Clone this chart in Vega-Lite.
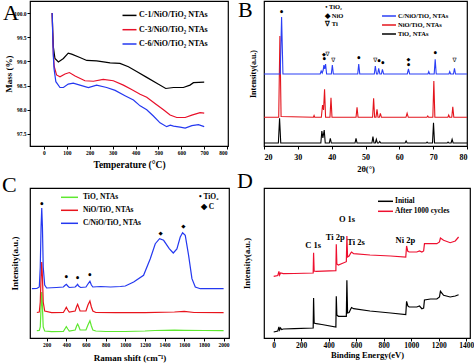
{
"$schema": "https://vega.github.io/schema/vega-lite/v6.json",
"background": "white",
"autosize": {"type": "none"},
"padding": {"left": 30, "top": 1, "right": 444, "bottom": 363},
"bounds": "flush",
"align": "none",
"columns": 2,
"spacing": {"row": 42, "column": 35},
"resolve": {"scale": {"color": "independent"}},
"concat": [
  {"width": 198, "height": 145,
   "title": {"text": "A", "dx": -27, "dy": 28},
   "encoding": {
    "x": {"field": "T", "type": "quantitative", "scale": {"domain": [-61, 804], "nice": false, "zero": false},
      "axis": {"title": "Temperature (°C)", "values": [0,100,200,300,400,500,600,700,800], "labelFontSize": 5.5, "labelPadding": 1, "titleFontSize": 9.5, "titlePadding": 4}},
    "y": {"field": "mass", "type": "quantitative", "scale": {"domain": [97.25, 100.25], "nice": false, "zero": false},
      "axis": {"title": "Mass (%)", "values": [97.5,98,98.5,99,99.5,100], "format": ".1f", "labelFontSize": 5.5, "labelPadding": 1, "titleFontSize": 9, "titlePadding": 0}}
   },
   "layer": [
    {"data": {"name": "tga"}, "mark": {"type": "line", "strokeWidth": 1.2},
     "encoding": {"color": {"field": "sample", "type": "nominal",
       "scale": {"domain": ["C-1/NiO/TiO₂ NTAs","C-3/NiO/TiO₂ NTAs","C-6/NiO/TiO₂ NTAs"], "range": ["#000000","#e8102a","#2438f0"]},
       "legend": {"orient": "none", "legendX": 91.5, "legendY": 6.4, "title": null, "symbolType": "M-1,0H1", "symbolSize": 196, "symbolStrokeWidth": 1.5, "labelFontSize": 8, "labelOffset": 1.5, "rowPadding": 2.3, "padding": 0}}}}
   ]},
  {"width": 203, "height": 145,
   "title": {"text": "B", "dx": -26, "dy": 25},
   "encoding": {
    "x": {"field": "theta", "type": "quantitative", "scale": {"domain": [20, 80], "nice": false, "zero": false},
      "axis": {"title": "2θ(°)", "values": [20,30,40,50,60,70,80], "labelFontSize": 8, "labelPadding": 4, "titleFontSize": 8.5, "titlePadding": 3}},
    "y": {"field": "I", "type": "quantitative", "scale": {"domain": [0, 145], "nice": false, "zero": false},
      "axis": {"title": "Intensity(a.u.)", "labels": false, "ticks": false, "titleFontSize": 8, "titlePadding": 7}}
   },
   "layer": [
    {"data": {"name": "xrd"}, "mark": {"type": "line", "strokeWidth": 1.1},
     "encoding": {"color": {"field": "sample", "type": "nominal",
       "scale": {"domain": ["C/NiO/TiO₂ NTAs","NiO/TiO₂ NTAs","TiO₂ NTAs"], "range": ["#2b3ff5","#e4141c","#000000"]},
       "legend": {"orient": "none", "legendX": 119.5, "legendY": 9.5, "title": null, "symbolType": "M-1.55,0H1.55", "symbolSize": 81, "symbolStrokeWidth": 1.5, "labelFontSize": 6.5, "labelOffset": 3.5, "rowPadding": 0, "padding": 0}}}},
    {"data": {"name": "xrdDots"}, "mark": {"type": "text", "font": "DejaVu Sans", "fontSize": 8, "fontWeight": "bold"},
     "encoding": {"text": {"field": "label", "type": "nominal"}}},
    {"data": {"name": "xrdTriangles"}, "mark": {"type": "text", "font": "DejaVu Sans", "fontSize": 6},
     "encoding": {"text": {"field": "label", "type": "nominal"}}},
    {"data": {"name": "xrdDiamonds"}, "mark": {"type": "text", "font": "DejaVu Sans", "fontSize": 5},
     "encoding": {"text": {"field": "label", "type": "nominal"}}},
    {"data": {"name": "xrdKey"}, "mark": {"type": "text", "align": "left", "font": "Liberation Serif", "fontSize": 6.5, "fontWeight": "bold"},
     "encoding": {"text": {"field": "label", "type": "nominal"}}}
   ]},
  {"width": 199, "height": 150,
   "title": {"text": "C", "dx": -28, "dy": 13},
   "encoding": {
    "x": {"field": "shift", "type": "quantitative", "scale": {"domain": [30.5, 2055], "nice": false, "zero": false},
      "axis": {"title": "Raman shift (cm⁻¹)", "values": [200,400,600,800,1000,1200,1400,1600,1800,2000], "format": "d", "labelFontSize": 5.5, "labelPadding": 1.5, "titleFontSize": 9, "titlePadding": 5}},
    "y": {"field": "I", "type": "quantitative", "scale": {"domain": [-1, 149], "nice": false, "zero": false},
      "axis": {"title": "Intensity(a.u.)", "labels": false, "ticks": false, "titleFontSize": 9, "titlePadding": 10.5}}
   },
   "layer": [
    {"data": {"name": "raman"}, "mark": {"type": "line", "strokeWidth": 1.2},
     "encoding": {"color": {"field": "sample", "type": "nominal",
       "scale": {"domain": ["TiO₂ NTAs","NiO/TiO₂ NTAs","C/NiO/TiO₂ NTAs"], "range": ["#5ee830","#e8141c","#2438f0"]},
       "legend": {"orient": "none", "legendX": 32, "legendY": 1.8, "title": null, "symbolType": "M-1.31,0H1.31", "symbolSize": 169, "symbolStrokeWidth": 1.5, "labelFontSize": 7.5, "labelOffset": 6, "rowPadding": 2, "padding": 0}}}},
    {"data": {"name": "ramanDots"}, "mark": {"type": "text", "font": "DejaVu Sans", "fontSize": 8, "fontWeight": "bold"},
     "encoding": {"text": {"field": "label", "type": "nominal"}}},
    {"data": {"name": "ramanDiamonds"}, "mark": {"type": "text", "font": "DejaVu Sans", "fontSize": 5.5},
     "encoding": {"text": {"field": "label", "type": "nominal"}}},
    {"data": {"name": "ramanKey"}, "mark": {"type": "text", "align": "left", "font": "Liberation Serif", "fontSize": 7.5, "fontWeight": "bold"},
     "encoding": {"text": {"field": "label", "type": "nominal"}}}
   ]},
  {"width": 206, "height": 150,
   "title": {"text": "D", "dx": -27, "dy": 9},
   "encoding": {
    "x": {"field": "E", "type": "quantitative", "scale": {"domain": [-70.5, 1427], "nice": false, "zero": false},
      "axis": {"title": "Binding Energy(eV)", "values": [0,200,400,600,800,1000,1200,1400], "format": "d", "labelFontSize": 7.5, "labelPadding": 0.5, "titleFontSize": 8.5, "titlePadding": 1.5}},
    "y": {"field": "I", "type": "quantitative", "scale": {"domain": [1, 151], "nice": false, "zero": false},
      "axis": {"title": "Intensity(a.u.)", "labels": false, "ticks": false, "titleFontSize": 8.5, "titlePadding": 12.5}}
   },
   "layer": [
    {"data": {"name": "xps"}, "mark": {"type": "line", "strokeWidth": 1.2},
     "encoding": {"color": {"field": "sample", "type": "nominal",
       "scale": {"domain": ["Initial","After 1000 cycles"], "range": ["#000000","#ee1030"]},
       "legend": {"orient": "none", "legendX": 115, "legendY": 6.8, "title": null, "symbolType": "M-1.36,0H1.36", "symbolSize": 121, "symbolStrokeWidth": 1.5, "labelFontSize": 7.5, "labelOffset": 3, "rowPadding": 0, "padding": 0}}}},
    {"data": {"name": "xpsLabels"}, "mark": {"type": "text", "font": "Liberation Serif", "fontSize": 8.5, "fontWeight": "bold"},
     "encoding": {"text": {"field": "label", "type": "nominal"}}}
   ]}
],
"datasets": {
"tga": [
{"T":36,"mass":100.0,"sample":"C-1/NiO/TiO₂ NTAs"},{"T":38,"mass":99.65,"sample":"C-1/NiO/TiO₂ NTAs"},{"T":41,"mass":99.3,"sample":"C-1/NiO/TiO₂ NTAs"},{"T":48,"mass":99.06,"sample":"C-1/NiO/TiO₂ NTAs"},{"T":63,"mass":98.99,"sample":"C-1/NiO/TiO₂ NTAs"},{"T":85,"mass":99.06,"sample":"C-1/NiO/TiO₂ NTAs"},{"T":106,"mass":99.17,"sample":"C-1/NiO/TiO₂ NTAs"},{"T":121,"mass":99.15,"sample":"C-1/NiO/TiO₂ NTAs"},{"T":157,"mass":99.08,"sample":"C-1/NiO/TiO₂ NTAs"},{"T":187,"mass":99.02,"sample":"C-1/NiO/TiO₂ NTAs"},{"T":230,"mass":99.01,"sample":"C-1/NiO/TiO₂ NTAs"},{"T":260,"mass":98.99,"sample":"C-1/NiO/TiO₂ NTAs"},{"T":289,"mass":98.97,"sample":"C-1/NiO/TiO₂ NTAs"},{"T":332,"mass":98.96,"sample":"C-1/NiO/TiO₂ NTAs"},{"T":369,"mass":98.89,"sample":"C-1/NiO/TiO₂ NTAs"},{"T":405,"mass":98.79,"sample":"C-1/NiO/TiO₂ NTAs"},{"T":449,"mass":98.67,"sample":"C-1/NiO/TiO₂ NTAs"},{"T":493,"mass":98.55,"sample":"C-1/NiO/TiO₂ NTAs"},{"T":532,"mass":98.44,"sample":"C-1/NiO/TiO₂ NTAs"},{"T":566,"mass":98.46,"sample":"C-1/NiO/TiO₂ NTAs"},{"T":609,"mass":98.46,"sample":"C-1/NiO/TiO₂ NTAs"},{"T":638,"mass":98.51,"sample":"C-1/NiO/TiO₂ NTAs"},{"T":653,"mass":98.56,"sample":"C-1/NiO/TiO₂ NTAs"},{"T":700,"mass":98.57,"sample":"C-1/NiO/TiO₂ NTAs"},
{"T":36,"mass":100.0,"sample":"C-3/NiO/TiO₂ NTAs"},{"T":38,"mass":99.6,"sample":"C-3/NiO/TiO₂ NTAs"},{"T":41,"mass":99.15,"sample":"C-3/NiO/TiO₂ NTAs"},{"T":45,"mass":98.89,"sample":"C-3/NiO/TiO₂ NTAs"},{"T":55,"mass":98.72,"sample":"C-3/NiO/TiO₂ NTAs"},{"T":70,"mass":98.68,"sample":"C-3/NiO/TiO₂ NTAs"},{"T":92,"mass":98.74,"sample":"C-3/NiO/TiO₂ NTAs"},{"T":111,"mass":98.77,"sample":"C-3/NiO/TiO₂ NTAs"},{"T":136,"mass":98.70,"sample":"C-3/NiO/TiO₂ NTAs"},{"T":179,"mass":98.60,"sample":"C-3/NiO/TiO₂ NTAs"},{"T":216,"mass":98.59,"sample":"C-3/NiO/TiO₂ NTAs"},{"T":259,"mass":98.63,"sample":"C-3/NiO/TiO₂ NTAs"},{"T":303,"mass":98.60,"sample":"C-3/NiO/TiO₂ NTAs"},{"T":347,"mass":98.51,"sample":"C-3/NiO/TiO₂ NTAs"},{"T":383,"mass":98.42,"sample":"C-3/NiO/TiO₂ NTAs"},{"T":420,"mass":98.32,"sample":"C-3/NiO/TiO₂ NTAs"},{"T":449,"mass":98.26,"sample":"C-3/NiO/TiO₂ NTAs"},{"T":485,"mass":98.13,"sample":"C-3/NiO/TiO₂ NTAs"},{"T":522,"mass":98.0,"sample":"C-3/NiO/TiO₂ NTAs"},{"T":551,"mass":97.89,"sample":"C-3/NiO/TiO₂ NTAs"},{"T":580,"mass":97.84,"sample":"C-3/NiO/TiO₂ NTAs"},{"T":617,"mass":97.84,"sample":"C-3/NiO/TiO₂ NTAs"},{"T":646,"mass":97.89,"sample":"C-3/NiO/TiO₂ NTAs"},{"T":682,"mass":97.94,"sample":"C-3/NiO/TiO₂ NTAs"},{"T":700,"mass":97.93,"sample":"C-3/NiO/TiO₂ NTAs"},
{"T":36,"mass":100.0,"sample":"C-6/NiO/TiO₂ NTAs"},{"T":38,"mass":99.6,"sample":"C-6/NiO/TiO₂ NTAs"},{"T":41,"mass":99.1,"sample":"C-6/NiO/TiO₂ NTAs"},{"T":44,"mass":98.85,"sample":"C-6/NiO/TiO₂ NTAs"},{"T":52,"mass":98.58,"sample":"C-6/NiO/TiO₂ NTAs"},{"T":70,"mass":98.46,"sample":"C-6/NiO/TiO₂ NTAs"},{"T":85,"mass":98.46,"sample":"C-6/NiO/TiO₂ NTAs"},{"T":106,"mass":98.53,"sample":"C-6/NiO/TiO₂ NTAs"},{"T":128,"mass":98.55,"sample":"C-6/NiO/TiO₂ NTAs"},{"T":157,"mass":98.51,"sample":"C-6/NiO/TiO₂ NTAs"},{"T":194,"mass":98.46,"sample":"C-6/NiO/TiO₂ NTAs"},{"T":230,"mass":98.51,"sample":"C-6/NiO/TiO₂ NTAs"},{"T":274,"mass":98.46,"sample":"C-6/NiO/TiO₂ NTAs"},{"T":311,"mass":98.40,"sample":"C-6/NiO/TiO₂ NTAs"},{"T":354,"mass":98.29,"sample":"C-6/NiO/TiO₂ NTAs"},{"T":391,"mass":98.20,"sample":"C-6/NiO/TiO₂ NTAs"},{"T":420,"mass":98.08,"sample":"C-6/NiO/TiO₂ NTAs"},{"T":449,"mass":98.0,"sample":"C-6/NiO/TiO₂ NTAs"},{"T":478,"mass":97.87,"sample":"C-6/NiO/TiO₂ NTAs"},{"T":507,"mass":97.73,"sample":"C-6/NiO/TiO₂ NTAs"},{"T":536,"mass":97.65,"sample":"C-6/NiO/TiO₂ NTAs"},{"T":552,"mass":97.68,"sample":"C-6/NiO/TiO₂ NTAs"},{"T":566,"mass":97.66,"sample":"C-6/NiO/TiO₂ NTAs"},{"T":595,"mass":97.64,"sample":"C-6/NiO/TiO₂ NTAs"},{"T":617,"mass":97.62,"sample":"C-6/NiO/TiO₂ NTAs"},{"T":646,"mass":97.67,"sample":"C-6/NiO/TiO₂ NTAs"},{"T":675,"mass":97.69,"sample":"C-6/NiO/TiO₂ NTAs"},{"T":700,"mass":97.65,"sample":"C-6/NiO/TiO₂ NTAs"}
],
"xrd": [
{"theta":20,"I":3,"sample":"TiO₂ NTAs"},{"theta":24.25,"I":3,"sample":"TiO₂ NTAs"},{"theta":24.6,"I":27.7,"sample":"TiO₂ NTAs"},{"theta":24.95,"I":3,"sample":"TiO₂ NTAs"},{"theta":36.8,"I":3,"sample":"TiO₂ NTAs"},{"theta":37.1,"I":15,"sample":"TiO₂ NTAs"},{"theta":37.4,"I":8,"sample":"TiO₂ NTAs"},{"theta":37.8,"I":16,"sample":"TiO₂ NTAs"},{"theta":38.1,"I":3,"sample":"TiO₂ NTAs"},{"theta":39.3,"I":3,"sample":"TiO₂ NTAs"},{"theta":39.6,"I":7.7,"sample":"TiO₂ NTAs"},{"theta":39.9,"I":3,"sample":"TiO₂ NTAs"},{"theta":46.9,"I":3,"sample":"TiO₂ NTAs"},{"theta":47.2,"I":7.7,"sample":"TiO₂ NTAs"},{"theta":47.5,"I":3,"sample":"TiO₂ NTAs"},{"theta":51.9,"I":3,"sample":"TiO₂ NTAs"},{"theta":52.2,"I":9.3,"sample":"TiO₂ NTAs"},{"theta":52.5,"I":3,"sample":"TiO₂ NTAs"},{"theta":52.9,"I":3,"sample":"TiO₂ NTAs"},{"theta":53.2,"I":6.7,"sample":"TiO₂ NTAs"},{"theta":53.5,"I":3,"sample":"TiO₂ NTAs"},{"theta":53.9,"I":3,"sample":"TiO₂ NTAs"},{"theta":54.2,"I":4.5,"sample":"TiO₂ NTAs"},{"theta":54.5,"I":3,"sample":"TiO₂ NTAs"},{"theta":61.7,"I":3,"sample":"TiO₂ NTAs"},{"theta":62.0,"I":5,"sample":"TiO₂ NTAs"},{"theta":62.3,"I":3,"sample":"TiO₂ NTAs"},{"theta":67.95,"I":3,"sample":"TiO₂ NTAs"},{"theta":68.2,"I":4,"sample":"TiO₂ NTAs"},{"theta":68.45,"I":3,"sample":"TiO₂ NTAs"},{"theta":69.8,"I":3,"sample":"TiO₂ NTAs"},{"theta":70.1,"I":23.3,"sample":"TiO₂ NTAs"},{"theta":70.4,"I":3,"sample":"TiO₂ NTAs"},{"theta":74.15,"I":3,"sample":"TiO₂ NTAs"},{"theta":74.4,"I":4,"sample":"TiO₂ NTAs"},{"theta":74.65,"I":3,"sample":"TiO₂ NTAs"},{"theta":75.3,"I":3,"sample":"TiO₂ NTAs"},{"theta":75.6,"I":6.7,"sample":"TiO₂ NTAs"},{"theta":75.9,"I":3,"sample":"TiO₂ NTAs"},{"theta":80,"I":3,"sample":"TiO₂ NTAs"},
{"theta":20,"I":28.7,"sample":"NiO/TiO₂ NTAs"},{"theta":24.35,"I":28.7,"sample":"NiO/TiO₂ NTAs"},{"theta":24.7,"I":110,"sample":"NiO/TiO₂ NTAs"},{"theta":25.05,"I":29.5,"sample":"NiO/TiO₂ NTAs"},{"theta":34.6,"I":28.7,"sample":"NiO/TiO₂ NTAs"},{"theta":34.8,"I":30.5,"sample":"NiO/TiO₂ NTAs"},{"theta":35.0,"I":28.7,"sample":"NiO/TiO₂ NTAs"},{"theta":36.95,"I":28.7,"sample":"NiO/TiO₂ NTAs"},{"theta":37.3,"I":41,"sample":"NiO/TiO₂ NTAs"},{"theta":37.6,"I":36,"sample":"NiO/TiO₂ NTAs"},{"theta":37.9,"I":56.7,"sample":"NiO/TiO₂ NTAs"},{"theta":38.2,"I":28.7,"sample":"NiO/TiO₂ NTAs"},{"theta":39.5,"I":28.7,"sample":"NiO/TiO₂ NTAs"},{"theta":39.8,"I":48.3,"sample":"NiO/TiO₂ NTAs"},{"theta":40.1,"I":28.7,"sample":"NiO/TiO₂ NTAs"},{"theta":47.2,"I":28.7,"sample":"NiO/TiO₂ NTAs"},{"theta":47.5,"I":38.7,"sample":"NiO/TiO₂ NTAs"},{"theta":47.8,"I":28.7,"sample":"NiO/TiO₂ NTAs"},{"theta":52.1,"I":28.7,"sample":"NiO/TiO₂ NTAs"},{"theta":52.4,"I":47.7,"sample":"NiO/TiO₂ NTAs"},{"theta":52.7,"I":28.7,"sample":"NiO/TiO₂ NTAs"},{"theta":53.1,"I":28.7,"sample":"NiO/TiO₂ NTAs"},{"theta":53.4,"I":36.7,"sample":"NiO/TiO₂ NTAs"},{"theta":53.7,"I":28.7,"sample":"NiO/TiO₂ NTAs"},{"theta":54.1,"I":28.7,"sample":"NiO/TiO₂ NTAs"},{"theta":54.4,"I":32.7,"sample":"NiO/TiO₂ NTAs"},{"theta":54.7,"I":28.7,"sample":"NiO/TiO₂ NTAs"},{"theta":61.95,"I":28.7,"sample":"NiO/TiO₂ NTAs"},{"theta":62.3,"I":32.7,"sample":"NiO/TiO₂ NTAs"},{"theta":62.65,"I":28.7,"sample":"NiO/TiO₂ NTAs"},{"theta":68.15,"I":28.7,"sample":"NiO/TiO₂ NTAs"},{"theta":68.4,"I":30,"sample":"NiO/TiO₂ NTAs"},{"theta":68.65,"I":28.7,"sample":"NiO/TiO₂ NTAs"},{"theta":69.9,"I":28.7,"sample":"NiO/TiO₂ NTAs"},{"theta":70.2,"I":65,"sample":"NiO/TiO₂ NTAs"},{"theta":70.5,"I":28.7,"sample":"NiO/TiO₂ NTAs"},{"theta":74.35,"I":28.7,"sample":"NiO/TiO₂ NTAs"},{"theta":74.6,"I":31,"sample":"NiO/TiO₂ NTAs"},{"theta":74.85,"I":28.7,"sample":"NiO/TiO₂ NTAs"},{"theta":75.5,"I":28.7,"sample":"NiO/TiO₂ NTAs"},{"theta":75.8,"I":39.3,"sample":"NiO/TiO₂ NTAs"},{"theta":76.1,"I":28.7,"sample":"NiO/TiO₂ NTAs"},{"theta":80,"I":28.7,"sample":"NiO/TiO₂ NTAs"},
{"theta":20,"I":72,"sample":"C/NiO/TiO₂ NTAs"},{"theta":24.8,"I":72,"sample":"C/NiO/TiO₂ NTAs"},{"theta":25.2,"I":129,"sample":"C/NiO/TiO₂ NTAs"},{"theta":25.6,"I":72,"sample":"C/NiO/TiO₂ NTAs"},{"theta":36.6,"I":72,"sample":"C/NiO/TiO₂ NTAs"},{"theta":36.9,"I":75,"sample":"C/NiO/TiO₂ NTAs"},{"theta":37.2,"I":73,"sample":"C/NiO/TiO₂ NTAs"},{"theta":37.5,"I":76,"sample":"C/NiO/TiO₂ NTAs"},{"theta":37.7,"I":81,"sample":"C/NiO/TiO₂ NTAs"},{"theta":37.95,"I":77,"sample":"C/NiO/TiO₂ NTAs"},{"theta":38.2,"I":82,"sample":"C/NiO/TiO₂ NTAs"},{"theta":38.5,"I":72,"sample":"C/NiO/TiO₂ NTAs"},{"theta":39.9,"I":72,"sample":"C/NiO/TiO₂ NTAs"},{"theta":40.2,"I":81,"sample":"C/NiO/TiO₂ NTAs"},{"theta":40.5,"I":72,"sample":"C/NiO/TiO₂ NTAs"},{"theta":47.7,"I":72,"sample":"C/NiO/TiO₂ NTAs"},{"theta":48.0,"I":82,"sample":"C/NiO/TiO₂ NTAs"},{"theta":48.3,"I":72,"sample":"C/NiO/TiO₂ NTAs"},{"theta":52.6,"I":72,"sample":"C/NiO/TiO₂ NTAs"},{"theta":52.9,"I":80,"sample":"C/NiO/TiO₂ NTAs"},{"theta":53.25,"I":72,"sample":"C/NiO/TiO₂ NTAs"},{"theta":53.6,"I":72,"sample":"C/NiO/TiO₂ NTAs"},{"theta":53.9,"I":77.7,"sample":"C/NiO/TiO₂ NTAs"},{"theta":54.25,"I":72,"sample":"C/NiO/TiO₂ NTAs"},{"theta":54.7,"I":72,"sample":"C/NiO/TiO₂ NTAs"},{"theta":55.0,"I":76.7,"sample":"C/NiO/TiO₂ NTAs"},{"theta":55.35,"I":72,"sample":"C/NiO/TiO₂ NTAs"},{"theta":62.35,"I":72,"sample":"C/NiO/TiO₂ NTAs"},{"theta":62.7,"I":77,"sample":"C/NiO/TiO₂ NTAs"},{"theta":63.05,"I":72,"sample":"C/NiO/TiO₂ NTAs"},{"theta":68.45,"I":72,"sample":"C/NiO/TiO₂ NTAs"},{"theta":68.7,"I":74.3,"sample":"C/NiO/TiO₂ NTAs"},{"theta":68.95,"I":72,"sample":"C/NiO/TiO₂ NTAs"},{"theta":70.3,"I":72,"sample":"C/NiO/TiO₂ NTAs"},{"theta":70.6,"I":86.7,"sample":"C/NiO/TiO₂ NTAs"},{"theta":70.9,"I":72,"sample":"C/NiO/TiO₂ NTAs"},{"theta":74.65,"I":72,"sample":"C/NiO/TiO₂ NTAs"},{"theta":74.9,"I":74.3,"sample":"C/NiO/TiO₂ NTAs"},{"theta":75.15,"I":72,"sample":"C/NiO/TiO₂ NTAs"},{"theta":76.0,"I":72,"sample":"C/NiO/TiO₂ NTAs"},{"theta":76.3,"I":77.7,"sample":"C/NiO/TiO₂ NTAs"},{"theta":76.6,"I":72,"sample":"C/NiO/TiO₂ NTAs"},{"theta":80,"I":72,"sample":"C/NiO/TiO₂ NTAs"}
],
"xrdDots": [
{"theta":25.2,"I":133,"label":"•"},{"theta":37.8,"I":86,"label":"•"},{"theta":48.0,"I":87,"label":"•"},{"theta":54.0,"I":84.5,"label":"•"},{"theta":55.1,"I":82,"label":"•"},{"theta":62.7,"I":80.5,"label":"•"},{"theta":70.6,"I":92,"label":"•"}
],
"xrdTriangles": [
{"theta":38.8,"I":92,"label":"∇"},{"theta":40.5,"I":86,"label":"∇"},{"theta":52.9,"I":86,"label":"∇"},{"theta":76.3,"I":86,"label":"∇"}
],
"xrdDiamonds": [
{"theta":37.7,"I":92,"label":"◆"},{"theta":62.7,"I":87,"label":"◆"}
],
"xrdKey": [
{"theta":38.1,"I":138.7,"label":"• TiO₂"},{"theta":38.1,"I":130,"label":"◆ NiO"},{"theta":38.1,"I":122,"label":"∇ Ti"}
],
"raman": [
{"shift":100,"I":6.3,"sample":"TiO₂ NTAs"},{"shift":125,"I":6.5,"sample":"TiO₂ NTAs"},{"shift":135,"I":10,"sample":"TiO₂ NTAs"},{"shift":143,"I":30,"sample":"TiO₂ NTAs"},{"shift":150,"I":45,"sample":"TiO₂ NTAs"},{"shift":157,"I":30,"sample":"TiO₂ NTAs"},{"shift":165,"I":10,"sample":"TiO₂ NTAs"},{"shift":180,"I":6,"sample":"TiO₂ NTAs"},{"shift":250,"I":5.3,"sample":"TiO₂ NTAs"},{"shift":370,"I":5.5,"sample":"TiO₂ NTAs"},{"shift":385,"I":8,"sample":"TiO₂ NTAs"},{"shift":400,"I":10.3,"sample":"TiO₂ NTAs"},{"shift":415,"I":8,"sample":"TiO₂ NTAs"},{"shift":430,"I":6,"sample":"TiO₂ NTAs"},{"shift":490,"I":7,"sample":"TiO₂ NTAs"},{"shift":505,"I":11,"sample":"TiO₂ NTAs"},{"shift":515,"I":13,"sample":"TiO₂ NTAs"},{"shift":525,"I":11,"sample":"TiO₂ NTAs"},{"shift":540,"I":7,"sample":"TiO₂ NTAs"},{"shift":600,"I":7,"sample":"TiO₂ NTAs"},{"shift":620,"I":12,"sample":"TiO₂ NTAs"},{"shift":640,"I":16.3,"sample":"TiO₂ NTAs"},{"shift":655,"I":11,"sample":"TiO₂ NTAs"},{"shift":670,"I":7,"sample":"TiO₂ NTAs"},{"shift":700,"I":6,"sample":"TiO₂ NTAs"},{"shift":800,"I":5.5,"sample":"TiO₂ NTAs"},{"shift":1000,"I":5.5,"sample":"TiO₂ NTAs"},{"shift":1200,"I":6,"sample":"TiO₂ NTAs"},{"shift":1300,"I":6.5,"sample":"TiO₂ NTAs"},{"shift":1500,"I":6.8,"sample":"TiO₂ NTAs"},{"shift":1600,"I":6.7,"sample":"TiO₂ NTAs"},{"shift":1800,"I":6.5,"sample":"TiO₂ NTAs"},{"shift":2000,"I":6.3,"sample":"TiO₂ NTAs"},
{"shift":100,"I":24.5,"sample":"NiO/TiO₂ NTAs"},{"shift":125,"I":25,"sample":"NiO/TiO₂ NTAs"},{"shift":135,"I":35,"sample":"NiO/TiO₂ NTAs"},{"shift":143,"I":60,"sample":"NiO/TiO₂ NTAs"},{"shift":150,"I":75,"sample":"NiO/TiO₂ NTAs"},{"shift":157,"I":60,"sample":"NiO/TiO₂ NTAs"},{"shift":165,"I":35,"sample":"NiO/TiO₂ NTAs"},{"shift":180,"I":26,"sample":"NiO/TiO₂ NTAs"},{"shift":250,"I":24.3,"sample":"NiO/TiO₂ NTAs"},{"shift":370,"I":24.5,"sample":"NiO/TiO₂ NTAs"},{"shift":385,"I":27,"sample":"NiO/TiO₂ NTAs"},{"shift":400,"I":29.7,"sample":"NiO/TiO₂ NTAs"},{"shift":415,"I":27,"sample":"NiO/TiO₂ NTAs"},{"shift":430,"I":25,"sample":"NiO/TiO₂ NTAs"},{"shift":490,"I":26,"sample":"NiO/TiO₂ NTAs"},{"shift":505,"I":30.5,"sample":"NiO/TiO₂ NTAs"},{"shift":515,"I":32.7,"sample":"NiO/TiO₂ NTAs"},{"shift":525,"I":30,"sample":"NiO/TiO₂ NTAs"},{"shift":540,"I":26,"sample":"NiO/TiO₂ NTAs"},{"shift":600,"I":26,"sample":"NiO/TiO₂ NTAs"},{"shift":620,"I":32,"sample":"NiO/TiO₂ NTAs"},{"shift":640,"I":36,"sample":"NiO/TiO₂ NTAs"},{"shift":655,"I":30,"sample":"NiO/TiO₂ NTAs"},{"shift":670,"I":26,"sample":"NiO/TiO₂ NTAs"},{"shift":700,"I":24.5,"sample":"NiO/TiO₂ NTAs"},{"shift":900,"I":24.3,"sample":"NiO/TiO₂ NTAs"},{"shift":1200,"I":24.3,"sample":"NiO/TiO₂ NTAs"},{"shift":1500,"I":25,"sample":"NiO/TiO₂ NTAs"},{"shift":1600,"I":25.7,"sample":"NiO/TiO₂ NTAs"},{"shift":1700,"I":24.5,"sample":"NiO/TiO₂ NTAs"},{"shift":2000,"I":24.3,"sample":"NiO/TiO₂ NTAs"},
{"shift":50,"I":48.3,"sample":"C/NiO/TiO₂ NTAs"},{"shift":100,"I":48.5,"sample":"C/NiO/TiO₂ NTAs"},{"shift":125,"I":50,"sample":"C/NiO/TiO₂ NTAs"},{"shift":135,"I":70,"sample":"C/NiO/TiO₂ NTAs"},{"shift":143,"I":110,"sample":"C/NiO/TiO₂ NTAs"},{"shift":150,"I":129,"sample":"C/NiO/TiO₂ NTAs"},{"shift":157,"I":110,"sample":"C/NiO/TiO₂ NTAs"},{"shift":165,"I":70,"sample":"C/NiO/TiO₂ NTAs"},{"shift":180,"I":52,"sample":"C/NiO/TiO₂ NTAs"},{"shift":200,"I":49,"sample":"C/NiO/TiO₂ NTAs"},{"shift":300,"I":49.5,"sample":"C/NiO/TiO₂ NTAs"},{"shift":370,"I":50,"sample":"C/NiO/TiO₂ NTAs"},{"shift":385,"I":51.5,"sample":"C/NiO/TiO₂ NTAs"},{"shift":400,"I":52.7,"sample":"C/NiO/TiO₂ NTAs"},{"shift":415,"I":51,"sample":"C/NiO/TiO₂ NTAs"},{"shift":430,"I":49.5,"sample":"C/NiO/TiO₂ NTAs"},{"shift":490,"I":50,"sample":"C/NiO/TiO₂ NTAs"},{"shift":505,"I":51.5,"sample":"C/NiO/TiO₂ NTAs"},{"shift":515,"I":52.7,"sample":"C/NiO/TiO₂ NTAs"},{"shift":525,"I":51,"sample":"C/NiO/TiO₂ NTAs"},{"shift":545,"I":49.5,"sample":"C/NiO/TiO₂ NTAs"},{"shift":600,"I":50,"sample":"C/NiO/TiO₂ NTAs"},{"shift":620,"I":53,"sample":"C/NiO/TiO₂ NTAs"},{"shift":640,"I":55.7,"sample":"C/NiO/TiO₂ NTAs"},{"shift":655,"I":52,"sample":"C/NiO/TiO₂ NTAs"},{"shift":670,"I":50,"sample":"C/NiO/TiO₂ NTAs"},{"shift":750,"I":50.5,"sample":"C/NiO/TiO₂ NTAs"},{"shift":850,"I":50,"sample":"C/NiO/TiO₂ NTAs"},{"shift":950,"I":50.5,"sample":"C/NiO/TiO₂ NTAs"},{"shift":1000,"I":51,"sample":"C/NiO/TiO₂ NTAs"},{"shift":1085,"I":55,"sample":"C/NiO/TiO₂ NTAs"},{"shift":1186,"I":61.7,"sample":"C/NiO/TiO₂ NTAs"},{"shift":1254,"I":78.3,"sample":"C/NiO/TiO₂ NTAs"},{"shift":1305,"I":93.3,"sample":"C/NiO/TiO₂ NTAs"},{"shift":1349,"I":98.3,"sample":"C/NiO/TiO₂ NTAs"},{"shift":1390,"I":96.7,"sample":"C/NiO/TiO₂ NTAs"},{"shift":1447,"I":88.3,"sample":"C/NiO/TiO₂ NTAs"},{"shift":1488,"I":84,"sample":"C/NiO/TiO₂ NTAs"},{"shift":1525,"I":88,"sample":"C/NiO/TiO₂ NTAs"},{"shift":1559,"I":100,"sample":"C/NiO/TiO₂ NTAs"},{"shift":1583,"I":104.3,"sample":"C/NiO/TiO₂ NTAs"},{"shift":1610,"I":101.7,"sample":"C/NiO/TiO₂ NTAs"},{"shift":1644,"I":81.7,"sample":"C/NiO/TiO₂ NTAs"},{"shift":1678,"I":58.3,"sample":"C/NiO/TiO₂ NTAs"},{"shift":1712,"I":50,"sample":"C/NiO/TiO₂ NTAs"},{"shift":1763,"I":48.3,"sample":"C/NiO/TiO₂ NTAs"},{"shift":2000,"I":48.3,"sample":"C/NiO/TiO₂ NTAs"}
],
"ramanDots": [
{"shift":150,"I":132.3,"label":"•"},{"shift":400,"I":59.3,"label":"•"},{"shift":515,"I":58.3,"label":"•"},{"shift":640,"I":61,"label":"•"}
],
"ramanDiamonds": [
{"shift":1360,"I":104.3,"label":"◆"},{"shift":1590,"I":110.7,"label":"◆"}
],
"ramanKey": [
{"shift":1750,"I":140,"label":"• TiO₂"},{"shift":1770,"I":130,"label":"◆ C"}
],
"xps": [
{"E":0,"I":7,"sample":"Initial"},{"E":30,"I":8,"sample":"Initial"},{"E":38,"I":12,"sample":"Initial"},{"E":43,"I":9,"sample":"Initial"},{"E":50,"I":11,"sample":"Initial"},{"E":58,"I":9.5,"sample":"Initial"},{"E":70,"I":10,"sample":"Initial"},{"E":150,"I":10.3,"sample":"Initial"},{"E":287,"I":11,"sample":"Initial"},{"E":290,"I":41,"sample":"Initial"},{"E":294,"I":16,"sample":"Initial"},{"E":310,"I":15.3,"sample":"Initial"},{"E":350,"I":14.5,"sample":"Initial"},{"E":452,"I":12,"sample":"Initial"},{"E":455,"I":42.7,"sample":"Initial"},{"E":459,"I":24,"sample":"Initial"},{"E":470,"I":22.7,"sample":"Initial"},{"E":528,"I":22.7,"sample":"Initial"},{"E":532,"I":58.7,"sample":"Initial"},{"E":537,"I":26,"sample":"Initial"},{"E":548,"I":26.5,"sample":"Initial"},{"E":560,"I":30,"sample":"Initial"},{"E":566,"I":31.5,"sample":"Initial"},{"E":581,"I":30.3,"sample":"Initial"},{"E":700,"I":28,"sample":"Initial"},{"E":850,"I":26,"sample":"Initial"},{"E":960,"I":24.3,"sample":"Initial"},{"E":966,"I":37.7,"sample":"Initial"},{"E":975,"I":33,"sample":"Initial"},{"E":985,"I":32,"sample":"Initial"},{"E":1040,"I":32,"sample":"Initial"},{"E":1060,"I":33,"sample":"Initial"},{"E":1077,"I":30.3,"sample":"Initial"},{"E":1090,"I":31,"sample":"Initial"},{"E":1096,"I":39,"sample":"Initial"},{"E":1140,"I":40,"sample":"Initial"},{"E":1186,"I":40,"sample":"Initial"},{"E":1205,"I":42,"sample":"Initial"},{"E":1212,"I":47.7,"sample":"Initial"},{"E":1235,"I":43.7,"sample":"Initial"},{"E":1283,"I":42,"sample":"Initial"},{"E":1320,"I":43,"sample":"Initial"},{"E":1344,"I":44.3,"sample":"Initial"},
{"E":0,"I":62.7,"sample":"After 1000 cycles"},{"E":30,"I":63.5,"sample":"After 1000 cycles"},{"E":38,"I":67.7,"sample":"After 1000 cycles"},{"E":43,"I":64,"sample":"After 1000 cycles"},{"E":50,"I":66,"sample":"After 1000 cycles"},{"E":70,"I":65.3,"sample":"After 1000 cycles"},{"E":150,"I":65.5,"sample":"After 1000 cycles"},{"E":287,"I":66,"sample":"After 1000 cycles"},{"E":290,"I":86.3,"sample":"After 1000 cycles"},{"E":294,"I":68,"sample":"After 1000 cycles"},{"E":310,"I":67.7,"sample":"After 1000 cycles"},{"E":452,"I":68.3,"sample":"After 1000 cycles"},{"E":455,"I":94.7,"sample":"After 1000 cycles"},{"E":459,"I":75,"sample":"After 1000 cycles"},{"E":470,"I":74,"sample":"After 1000 cycles"},{"E":528,"I":77.3,"sample":"After 1000 cycles"},{"E":532,"I":103,"sample":"After 1000 cycles"},{"E":537,"I":82,"sample":"After 1000 cycles"},{"E":548,"I":83,"sample":"After 1000 cycles"},{"E":560,"I":86,"sample":"After 1000 cycles"},{"E":566,"I":87,"sample":"After 1000 cycles"},{"E":581,"I":85.3,"sample":"After 1000 cycles"},{"E":700,"I":84,"sample":"After 1000 cycles"},{"E":850,"I":83,"sample":"After 1000 cycles"},{"E":960,"I":82,"sample":"After 1000 cycles"},{"E":966,"I":93,"sample":"After 1000 cycles"},{"E":975,"I":87.7,"sample":"After 1000 cycles"},{"E":985,"I":87,"sample":"After 1000 cycles"},{"E":1040,"I":87,"sample":"After 1000 cycles"},{"E":1060,"I":88,"sample":"After 1000 cycles"},{"E":1077,"I":87,"sample":"After 1000 cycles"},{"E":1090,"I":88,"sample":"After 1000 cycles"},{"E":1096,"I":95.3,"sample":"After 1000 cycles"},{"E":1140,"I":95.5,"sample":"After 1000 cycles"},{"E":1186,"I":95.3,"sample":"After 1000 cycles"},{"E":1205,"I":97,"sample":"After 1000 cycles"},{"E":1212,"I":101,"sample":"After 1000 cycles"},{"E":1235,"I":98.7,"sample":"After 1000 cycles"},{"E":1283,"I":96.3,"sample":"After 1000 cycles"},{"E":1320,"I":98,"sample":"After 1000 cycles"},{"E":1344,"I":102,"sample":"After 1000 cycles"}
],
"xpsLabels": [
{"E":286,"I":93.7,"label":"C 1s"},{"E":448,"I":102,"label":"Ti 2p"},{"E":533,"I":119.7,"label":"O 1s"},{"E":598,"I":96.7,"label":"Ti 2s"},{"E":957,"I":99.3,"label":"Ni 2p"}
]
},
"config": {
 "view": {"stroke": "#000000", "strokeWidth": 1.2},
 "font": "Liberation Serif",
 "title": {"font": "Liberation Serif", "fontSize": 22, "fontWeight": "normal", "anchor": "start", "frame": "group", "baseline": "alphabetic", "offset": 0, "color": "#000000"},
 "axis": {"domain": false, "grid": false, "tickSize": 3, "tickColor": "#000000", "labelColor": "#000000", "titleColor": "#000000", "labelFont": "Liberation Serif", "titleFont": "Liberation Serif", "labelFontWeight": "bold", "titleFontWeight": "bold"},
 "legend": {"labelFont": "Liberation Serif", "labelFontWeight": "bold", "labelColor": "#000000"}
}
}
